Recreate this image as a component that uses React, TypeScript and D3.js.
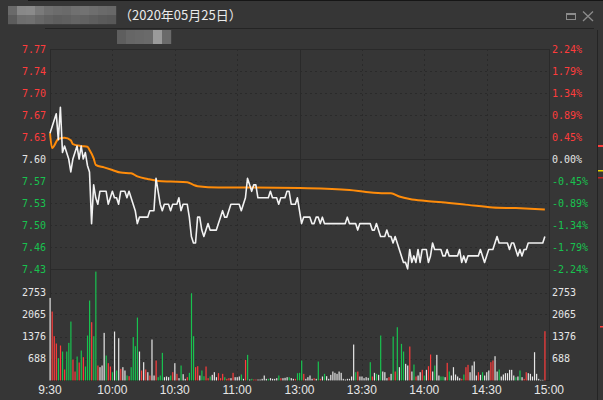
import * as d3 from 'd3'

// 分时图：白线=价格，橙线=均价，下方为成交量
const PRE_CLOSE = 7.6

const PRICE = [
  7.64, 7.65, 7.66, 7.67, 7.63, 7.68, 7.61, 7.62, 7.61, 7.60,
  7.58, 7.60, 7.61, 7.62, 7.60, 7.62, 7.60, 7.61, 7.59, 7.58,
  7.50, 7.56, 7.54, 7.53, 7.55, 7.55, 7.55, 7.55, 7.53, 7.54,
  7.55, 7.54, 7.54, 7.53, 7.55, 7.55, 7.55, 7.54, 7.55, 7.54,
  7.53, 7.52, 7.50, 7.51, 7.51, 7.51, 7.51, 7.51, 7.52, 7.52,
  7.52, 7.57, 7.55, 7.53, 7.52, 7.53, 7.53, 7.53, 7.52, 7.53,
  7.53, 7.53, 7.54, 7.52, 7.53, 7.53, 7.53, 7.51, 7.48, 7.47,
  7.47, 7.51, 7.51, 7.49, 7.48, 7.49, 7.50, 7.49, 7.49, 7.49,
  7.49, 7.50, 7.51, 7.52, 7.51, 7.51, 7.52, 7.53, 7.53, 7.53,
  7.53, 7.53, 7.52, 7.53, 7.54, 7.57, 7.56, 7.55, 7.56, 7.56,
  7.54, 7.54, 7.54, 7.54, 7.54, 7.54, 7.55, 7.54, 7.54, 7.54,
  7.53, 7.54, 7.54, 7.54, 7.55, 7.55, 7.53, 7.53, 7.53, 7.54,
  7.52, 7.50, 7.51, 7.51, 7.51, 7.51, 7.50, 7.50, 7.51, 7.51,
  7.50, 7.51, 7.50, 7.50, 7.50, 7.50, 7.50, 7.50, 7.50, 7.50,
  7.50, 7.50, 7.50, 7.51, 7.50, 7.50, 7.50, 7.50, 7.49, 7.50,
  7.50, 7.50, 7.50, 7.50, 7.50, 7.49, 7.49, 7.50, 7.49, 7.48,
  7.48, 7.48, 7.49, 7.48, 7.48, 7.47, 7.48, 7.47, 7.46, 7.45,
  7.44, 7.44, 7.43, 7.46, 7.44, 7.45, 7.44, 7.46, 7.44, 7.46,
  7.46, 7.46, 7.44, 7.45, 7.47, 7.46, 7.46, 7.46, 7.46, 7.45,
  7.45, 7.46, 7.45, 7.45, 7.45, 7.45, 7.45, 7.46, 7.44, 7.45,
  7.44, 7.45, 7.45, 7.45, 7.45, 7.45, 7.45, 7.46, 7.45, 7.44,
  7.45, 7.46, 7.46, 7.46, 7.47, 7.48, 7.47, 7.47, 7.47, 7.47,
  7.47, 7.46, 7.47, 7.47, 7.46, 7.45, 7.46, 7.45, 7.46, 7.46,
  7.47, 7.47, 7.47, 7.47, 7.47, 7.47, 7.47, 7.47, 7.48,
]

// 均价线：读出的拐点（分钟序号 -> 价格）
const AVG_MIN = [0, 1, 4, 7, 10, 11, 15, 18, 19, 21, 22, 26, 30, 34, 39, 42, 47, 52, 58, 66, 69, 71, 81, 96, 120, 144, 152, 161, 164, 168, 173, 181, 192, 201, 213, 224, 238]
const AVG_PRICE = [7.640, 7.617, 7.631, 7.633, 7.629, 7.623, 7.620, 7.619, 7.614, 7.601, 7.591, 7.587, 7.583, 7.579, 7.578, 7.573, 7.569, 7.566, 7.565, 7.564, 7.560, 7.558, 7.556, 7.556, 7.555, 7.552, 7.549, 7.547, 7.547, 7.542, 7.538, 7.535, 7.532, 7.529, 7.525, 7.524, 7.522]

const VOL = [
  2584, 2157, 1386, 1157, 698, 1094, 906, 344, 906, 1177,
  1844, 656, 281, 750, 563, 938, 729, 438, 1407, 2501,
  1824, 1386, 3407, 469, 417, 469, 1490, 781, 542, 438,
  260, 1532, 313, 1323, 365, 417, 313, 156, 135, 417,
  1355, 1073, 1969, 906, 313, 573, 344, 260, 156, 1282,
  156, 625, 104, 156, 865, 104, 125, 104, 156, 260,
  542, 208, 73, 469, 198, 52, 104, 240, 2730, 1386,
  417, 448, 156, 313, 135, 438, 73, 125, 177, 260,
  104, 229, 73, 208, 104, 52, 73, 73, 240, 104,
  104, 125, 188, 52, 646, 802, 31, 52, 31, 31,
  31, 31, 52, 156, 52, 52, 73, 52, 52, 73,
  156, 73, 73, 83, 104, 104, 73, 52, 52, 229,
  240, 625, 208, 52, 104, 156, 52, 73, 52, 594,
  52, 125, 208, 135, 52, 177, 281, 240, 208, 281,
  240, 52, 31, 52, 52, 125, 1125, 260, 281, 125,
  125, 73, 104, 83, 573, 125, 240, 208, 177, 1407,
  281, 260, 73, 104, 208, 1376, 281, 1667, 417, 1146,
  906, 521, 469, 1063, 281, 500, 125, 156, 260, 333,
  156, 333, 448, 813, 281, 469, 802, 156, 125, 125,
  104, 552, 281, 156, 417, 188, 125, 73, 52, 188,
  417, 490, 260, 469, 594, 156, 260, 177, 260, 156,
  260, 313, 573, 625, 760, 281, 344, 125, 188, 229,
  229, 333, 333, 156, 104, 125, 313, 104, 52, 260,
  229, 208, 125, 885, 208, 52, 20, 20, 1542,
]
// r=涨 g=跌 w=平
const VOL_DIR = (
  'wrrrgrgrgg' + 'grrgrgrggg' + 'rggrwwwgrr' + 'gwgwrwwgrg' + 'gggwrwrwrw' +
  'wrgggwwwgr' + 'wrwgwwrggg' + 'rrwggrrgww' + 'wrrrgrrwrw' + 'wwgwrgwgrr' +
  'wwwwwgwwww' + 'grwwwgwwrg' + 'ggrwwwwrwg' + 'rwgwwwwwww' + 'wwwwwwwgrw' +
  'wwwwgrwgwg' + 'wwwrwgrgwg' + 'gwwrwgrwwr' + 'gwrrwgwwgg' + 'wrgwwwwwrg' +
  'rrwwwwrwgw' + 'wwrrwwgwww' + 'wwwwgwgwrr' + 'wwwwwwwwr'
).split('')

const PRICE_TICKS = ['7.77', '7.74', '7.70', '7.67', '7.63', '7.60', '7.57', '7.53', '7.50', '7.46', '7.43']
const PCT_TICKS = ['2.24%', '1.79%', '1.34%', '0.89%', '0.45%', '0.00%', '-0.45%', '-0.89%', '-1.34%', '-1.79%', '-2.24%']
const VOL_TICKS = [2753, 2065, 1376, 688]
const TIME_LABELS = ['9:30', '10:00', '10:30', '11:00', '13:00', '13:30', '14:00', '14:30', '15:00']
const TIME_MIN = [0, 30, 60, 90, 120, 150, 180, 210, 240]

const BG = '#363636'
const GRID = '#2a2a2a'
const RED = '#ff3c3c'
const GREEN = '#18c24f'
const WHITE = '#e6e6e6'
const MONO = '"DejaVu Sans Mono", monospace'

// 打码的标题（马赛克块）
const MOSAIC1 = [
  ['#6a6a6a', '#888', '#8a8a8a', '#7a7a7a', '#707070', '#6c6c6c', '#6a6a6a', '#707070', '#727272', '#6e6e6e', '#6a6a6a', '#686868'],
  ['#5c5c5c', '#6e6e6e', '#707070', '#686868', '#626262', '#5e5e5e', '#606060', '#646464', '#626262', '#5e5e5e', '#5a5a5a', '#585858'],
]
const MOSAIC2 = ['#5e5e5e', '#666', '#686868', '#6a6a6a', '#9a9a9a', '#6a6a6a']

export default function App() {
  const W = 603, H = 400
  const x = d3.scaleLinear().domain([0, 240]).range([50, 549])
  const pMax = PRE_CLOSE * 1.0224
  const pMin = PRE_CLOSE * 0.9776
  const y = d3.scaleLinear().domain([pMin, pMax]).range([269, 49])
  const yv = d3.scaleLinear().domain([0, 688.25 * 5]).range([380.5, 270.5])

  const priceLine = d3.line<number>().x((_, i) => x(i)).y(d => y(d))
  const avgLine = d3.line<number>()
    .x((_, i) => x(AVG_MIN[i]))
    .y(d => y(d))
    .curve(d3.curveMonotoneX)

  const tickY = d3.range(PRICE_TICKS.length).map(k => y(pMax - k * (pMax - pMin) / (PRICE_TICKS.length - 1)))
  const tickColor = (k: number) => (k < 5 ? RED : k === 5 ? WHITE : GREEN)
  const barColor = (d: string) => (d === 'r' ? RED : d === 'g' ? GREEN : WHITE)

  return (
    <svg width={W} height={H} style={{ position: 'fixed', left: 0, top: 0, display: 'block' }}>
      <rect width={W} height={H} fill={BG} />

      {/* 窗口边框 / 标题栏 */}
      <line x1={28} x2={W} y1={0.5} y2={0.5} stroke="#161616" />
      <line x1={45} x2={594} y1={28.5} y2={28.5} stroke="#242424" />
      <line x1={597.5} x2={597.5} y1={30} y2={H} stroke="#242424" />
      <rect x={598} y={145} width={5} height={2} fill={RED} />
      <rect x={598} y={170} width={5} height={1.5} fill="#e6d200" />
      <rect x={598} y={177} width={5} height={1.5} fill="#c02020" />
      <rect x={600} y={326} width={3} height={1.5} fill={RED} />

      {MOSAIC1.map((row, r) =>
        row.map((c, k) => (
          <rect key={`m${r}-${k}`} x={8 + k * 9} y={6 + r * 9} width={9.2} height={9.2} fill={c} />
        ))
      )}
      {MOSAIC2.map((c, k) => (
        <rect key={`n${k}`} x={117 + k * 9} y={30} width={9.2} height={14} fill={c} />
      ))}
      <text x={119} y={19.5} fill="#eaeaea" fontSize={13} fontFamily='"Noto Sans CJK SC", sans-serif'>
        （2020年05月25日）
      </text>

      {/* 最大化 / 关闭 */}
      <rect x={566.5} y={13.5} width={9} height={6} fill="none" stroke="#8c8c8c" strokeWidth={1} />
      <line x1={566.5} x2={575.5} y1={14.5} y2={14.5} stroke="#8c8c8c" />
      <path d="M583,11.5 L593,21 M593,11.5 L583,21" stroke="#8c8c8c" strokeWidth={1.3} />

      {/* 网格 */}
      {tickY.map((ty, k) => (
        <line key={`h${k}`} x1={50} x2={549} y1={Math.round(ty) + 0.5} y2={Math.round(ty) + 0.5}
          stroke={GRID} strokeDasharray={k === 0 || k === 5 || k === 10 ? undefined : '2,3'} />
      ))}
      {VOL_TICKS.map(v => (
        <line key={`vh${v}`} x1={50} x2={549} y1={Math.round(yv(v)) + 0.5} y2={Math.round(yv(v)) + 0.5}
          stroke={GRID} strokeDasharray="2,3" />
      ))}
      <line x1={50} x2={549} y1={380.5} y2={380.5} stroke={GRID} />
      {TIME_MIN.map((m, k) => (
        <line key={`v${m}`} x1={Math.round(x(m)) + 0.5} x2={Math.round(x(m)) + 0.5} y1={49} y2={381}
          stroke={GRID} strokeDasharray={k === 0 || k === 4 || k === 8 ? undefined : '2,3'} />
      ))}

      {/* 成交量 */}
      {VOL.map((v, i) => (
        <rect key={`b${i}`} x={x(i) - 0.5} y={yv(v)} width={1.2} height={yv(0) - yv(v)} fill={barColor(VOL_DIR[i])} />
      ))}

      {/* 均价 & 价格 */}
      <path d={avgLine(AVG_PRICE) ?? ''} fill="none" stroke="#ff8c0a" strokeWidth={2} />
      <path d={priceLine(PRICE) ?? ''} fill="none" stroke="#f2f2f2" strokeWidth={1.6} strokeLinejoin="round" />

      {/* 坐标轴文字 */}
      {PRICE_TICKS.map((t, k) => (
        <text key={`pl${k}`} x={46} y={tickY[k]} dy="0.35em" textAnchor="end" fontSize={10} fontFamily={MONO} fill={tickColor(k)}>{t}</text>
      ))}
      {PCT_TICKS.map((t, k) => (
        <text key={`pr${k}`} x={552} y={tickY[k]} dy="0.35em" fontSize={10} fontFamily={MONO} fill={tickColor(k)}>{t}</text>
      ))}
      {VOL_TICKS.map(v => (
        <g key={`vl${v}`}>
          <text x={46} y={yv(v)} dy="0.35em" textAnchor="end" fontSize={10} fontFamily={MONO} fill={WHITE}>{v}</text>
          <text x={552} y={yv(v)} dy="0.35em" fontSize={10} fontFamily={MONO} fill={WHITE}>{v}</text>
        </g>
      ))}
      {TIME_LABELS.map((t, k) => (
        <text key={`t${k}`} x={x(TIME_MIN[k])} y={394} textAnchor="middle" fontSize={12}
          fontFamily='"Liberation Sans", Arial, sans-serif' fill={WHITE}>{t}</text>
      ))}
    </svg>
  )
}
